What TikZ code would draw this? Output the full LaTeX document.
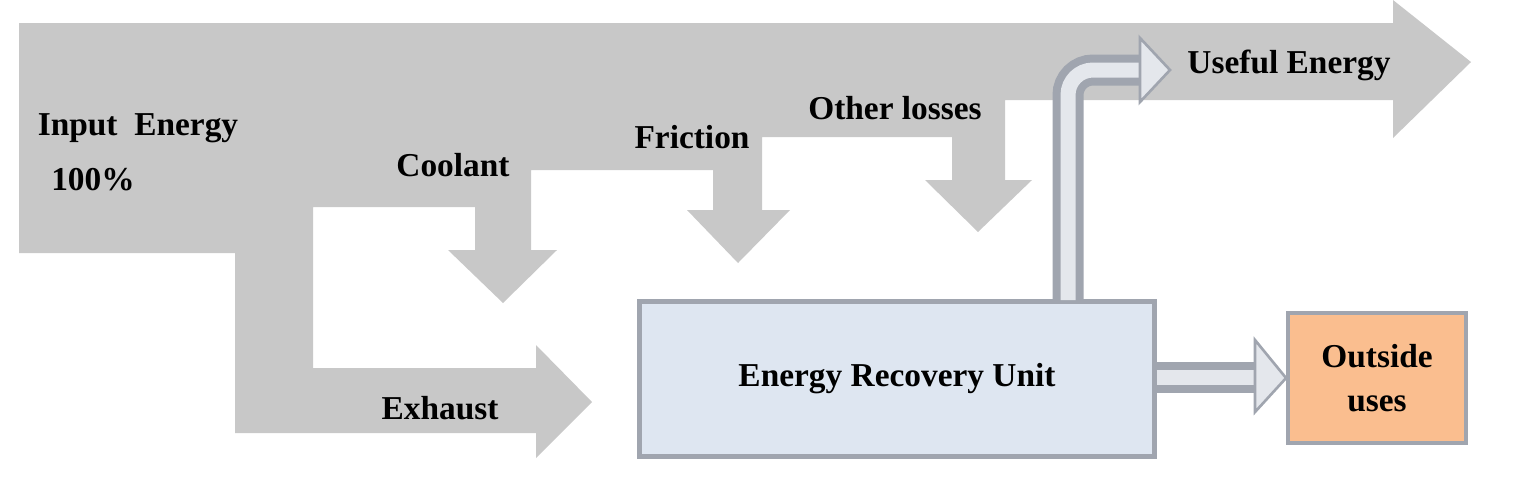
\documentclass[tikz,border=0pt]{standalone}
\usepackage{fontspec}
\setmainfont{Liberation Serif}
\usetikzlibrary{positioning}
\definecolor{flowgray}{RGB}{200,200,200}
\definecolor{unitblue}{RGB}{222,230,241}
\definecolor{useorange}{RGB}{250,190,143}
\definecolor{pipedark}{RGB}{160,165,175}
\definecolor{pipelight}{RGB}{228,231,236}
\tikzset{
  flow/.style={fill=flowgray,draw=none},
  lbl/.style={font=\bfseries\fontsize{19}{22}\selectfont,text=black,inner sep=0pt},
  unit/.style={draw=pipedark,line width=2.5pt,inner sep=0pt},
  pipe/.style={draw=pipedark,line width=0.62cm,rounded corners=0.5cm},
  pipein/.style={draw=pipelight,line width=0.3cm,rounded corners=0.5cm},
  pipehead/.style={fill=pipelight,draw=pipedark,line width=1.5pt,line join=miter}
}
\begin{document}
\begin{tikzpicture}[x=0.02cm,y=-0.02cm]
  \useasboundingbox (0,0) rectangle (1518,478);

  % main energy flow
  \path[flow] (19,23) -- (1393,23) -- (1393,0) -- (1471,62) -- (1393,138) -- (1393,100)
    -- (1005,100) -- (1005,180) -- (1032,180) -- (978,232) -- (925,180) -- (952,180)
    -- (952,137) -- (762,137) -- (762,210) -- (790,210) -- (738,263) -- (687,210)
    -- (713,210) -- (713,170) -- (531,170) -- (531,250) -- (557,250) -- (503,303)
    -- (448,250) -- (475,250) -- (475,207) -- (313,207) -- (313,368) -- (536,368)
    -- (536,345) -- (592,402) -- (536,458) -- (536,433) -- (235,433) -- (235,253)
    -- (19,253) -- cycle;

  \node[lbl] (input) at (138,128) {Input\ \ Energy};
  \node[lbl] (pct)   at (93,180)  {100\%};
  \node[lbl] (cool)  at (453,165) {Coolant};
  \node[lbl] (fric)  at (692,137) {Friction};
  \node[lbl] (other) at (895,108) {Other losses};
  \node[lbl] (useful) at (1289,65) {Useful Energy};
  \node[lbl] (exh)   at (440,408) {Exhaust};

  \node[unit,fill=unitblue,minimum width=10.3cm,minimum height=3.1cm] (eru) at (897,379) {};
  \node[lbl] at (eru) {Energy Recovery Unit};
  \node[unit,fill=useorange,minimum width=3.55cm,minimum height=2.6cm,align=center,
        font=\bfseries\fontsize{19}{25}\selectfont] (out) at (1377,378) {Outside\\uses};

  % recovered energy pipes
  \coordinate (up) at (1068,300);
  \coordinate (bend) at (1068,70);
  \coordinate (uend) at (1142,70);
  \draw[pipe] (up) -- (bend) -- (uend);
  \draw[pipein] (up) -- (bend) -- (uend);
  \path[pipehead] (1140,38) -- (1170,70) -- (1140,102) -- cycle;

  \coordinate (oend) at (1257,377);
  \draw[pipe] (eru.east |- oend) -- (oend);
  \draw[pipein] (eru.east |- oend) -- (oend);
  \path[pipehead] (1255,340) -- (out.west) -- (1255,412) -- cycle;
\end{tikzpicture}
\end{document}
